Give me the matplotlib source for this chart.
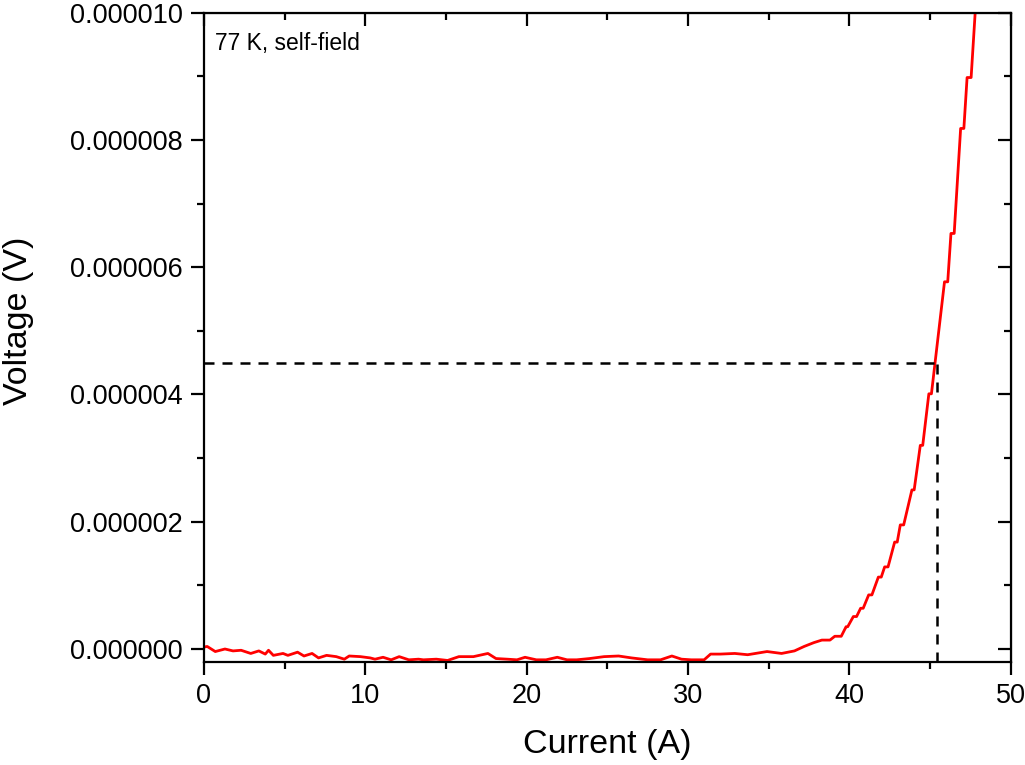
import matplotlib
matplotlib.use("Agg")
import matplotlib.pyplot as plt
from matplotlib.ticker import MultipleLocator, FormatStrFormatter

plt.rcParams['font.family'] = ['Liberation Sans', 'DejaVu Sans']

# I-V curve (current in A, voltage in microvolts)
current = [0.0, 0.2, 0.7, 1.3, 1.8, 2.3, 2.9, 3.4, 3.8, 4.0, 4.3, 4.9, 5.2, 5.8,
           6.2, 6.7, 7.1, 7.6, 8.2, 8.7, 9.0, 9.7, 10.3, 10.6, 11.1, 11.6, 12.1,
           12.7, 13.3, 13.6, 14.4, 15.1, 15.8, 16.7, 17.6, 18.1, 18.8, 19.4, 19.9,
           20.6, 21.2, 21.9, 22.5, 23.1, 23.9, 24.8, 25.7, 26.5, 27.5, 28.3, 29.0,
           29.6, 30.2, 31.0, 31.4, 32.0, 32.9, 33.7, 34.9, 35.8, 36.6, 37.2, 37.8,
           38.3, 38.8, 39.1, 39.5, 39.8, 39.9, 40.25, 40.45, 40.7, 40.86, 41.2,
           41.4, 41.8, 41.98, 42.19, 42.40, 42.81, 42.97, 43.16, 43.37, 43.88,
           44.02, 44.40, 44.55, 44.93, 45.09, 45.9, 46.1, 46.3, 46.5, 46.9, 47.1,
           47.3, 47.55, 47.9]
voltage_uv = [0.03, 0.04, -0.04, 0.0, -0.03, -0.02, -0.07, -0.03, -0.08, -0.02,
              -0.10, -0.07, -0.10, -0.05, -0.11, -0.07, -0.14, -0.10, -0.12, -0.16,
              -0.11, -0.12, -0.14, -0.16, -0.13, -0.17, -0.12, -0.17, -0.16, -0.17,
              -0.16, -0.18, -0.12, -0.12, -0.07, -0.15, -0.16, -0.17, -0.13, -0.17,
              -0.17, -0.13, -0.17, -0.17, -0.15, -0.12, -0.11, -0.14, -0.17, -0.17,
              -0.11, -0.16, -0.17, -0.17, -0.08, -0.08, -0.07, -0.09, -0.04, -0.07,
              -0.03, 0.04, 0.10, 0.14, 0.14, 0.20, 0.20, 0.35, 0.35, 0.51, 0.51,
              0.64, 0.64, 0.85, 0.85, 1.13, 1.13, 1.29, 1.29, 1.68, 1.68, 1.95,
              1.95, 2.50, 2.50, 3.20, 3.20, 4.01, 4.01, 5.77, 5.77, 6.53, 6.53,
              8.18, 8.18, 8.98, 8.98, 10.4]
voltage = [v * 1e-6 for v in voltage_uv]

# critical current criterion
ic = 45.45
vc = 4.5e-6

fig = plt.figure(figsize=(10.25, 7.65), dpi=100)
ax = fig.add_axes([0.199, 0.135, 0.787, 0.8485])

ax.plot(current, voltage, color='#ff0000', lw=2.0)
ax.plot([0, ic], [vc, vc], color='black', lw=1.8, dashes=(4, 3.2))
ax.plot([ic, ic], [-0.2e-6, vc], color='black', lw=1.8, dashes=(4, 3.2))

ax.set_xlim(0, 50)
ax.set_ylim(-0.2e-6, 1e-5)
ax.xaxis.set_major_locator(MultipleLocator(10))
ax.xaxis.set_minor_locator(MultipleLocator(5))
ax.yaxis.set_major_locator(MultipleLocator(2e-6))
ax.yaxis.set_minor_locator(MultipleLocator(1e-6))
ax.yaxis.set_major_formatter(FormatStrFormatter('%.6f'))

ax.tick_params(which='both', direction='out', width=1.6, labelsize=19.5)
ax.tick_params(which='major', length=9.5)
ax.tick_params(which='minor', length=4.8)
ax.tick_params(axis='x', pad=6)
ax.tick_params(axis='y', pad=6)
for s in ax.spines.values():
    s.set_linewidth(1.6)

# inward ticks on top and right
top = ax.secondary_xaxis('top')
top.xaxis.set_major_locator(MultipleLocator(10))
top.xaxis.set_minor_locator(MultipleLocator(5))
top.tick_params(which='both', direction='in', width=1.6, labeltop=False)
top.tick_params(which='major', length=9.5)
top.tick_params(which='minor', length=4.8)
right = ax.secondary_yaxis('right')
right.yaxis.set_major_locator(MultipleLocator(2e-6))
right.yaxis.set_minor_locator(MultipleLocator(1e-6))
right.tick_params(which='both', direction='in', width=1.6, labelright=False)
right.tick_params(which='major', length=9.5)
right.tick_params(which='minor', length=4.8)

ax.set_xlabel('Current (A)', fontsize=24.5, labelpad=14)
ax.set_ylabel('Voltage (V)', fontsize=24.5)
ax.yaxis.set_label_coords(-0.211, 0.525)
ax.text(0.014, 0.953, '77 K, self-field', transform=ax.transAxes,
        fontsize=16.5, va='center', ha='left')

fig.savefig('out.png', dpi=100)
